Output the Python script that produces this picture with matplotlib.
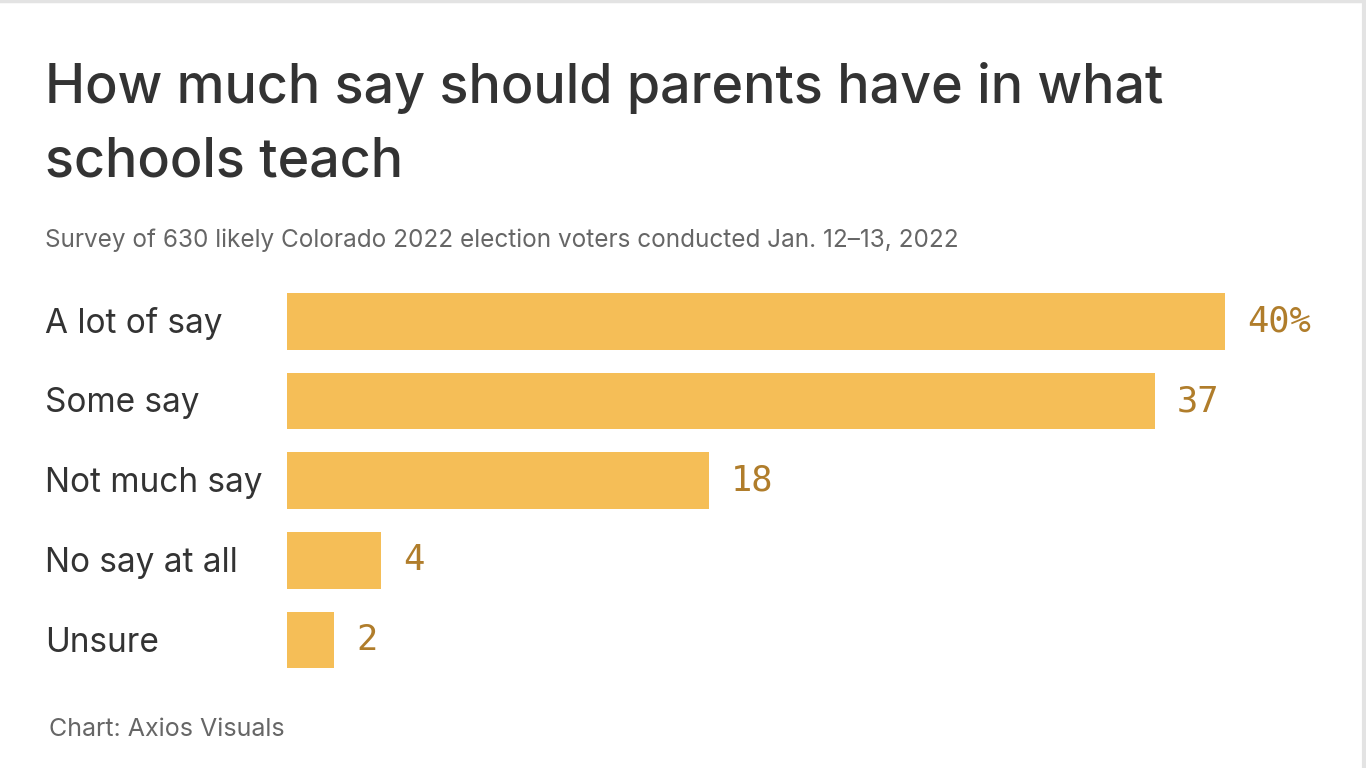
import matplotlib.pyplot as plt
from matplotlib.transforms import blended_transform_factory
from matplotlib.lines import Line2D

categories = ["A lot of say", "Some say", "Not much say", "No say at all", "Unsure"]
values = [40, 37, 18, 4, 2]
value_labels = ["40%", "37", "18", "4", "2"]

title = "How much say should parents have in what\nschools teach"
subtitle = "Survey of 630 likely Colorado 2022 election voters conducted Jan. 12\u201313, 2022"
footer = "Chart: Axios Visuals"

bar_color = "#F5BE57"
label_color = "#B07D2B"
text_dark = "#333333"
text_gray = "#666666"

W, H = 1366, 768
fig = plt.figure(figsize=(W / 100, H / 100), dpi=100)
fig.patch.set_facecolor("white")

# axes placed in pixel units: bars start at x=287, 40% ends at x=1225
left, right = 287, 1225
top, bottom = 281.5, 680
ax = fig.add_axes([left / W, 1 - bottom / H, (right - left) / W, (bottom - top) / H])
ax.set_xlim(0, 40)
ax.set_ylim(len(categories) - 0.5, -0.5)
ax.axis("off")

ypos = list(range(len(categories)))
ax.barh(ypos, values, height=0.71, color=bar_color)

px = 40 / (right - left)  # data units per pixel
for y, v, lab in zip(ypos, values, value_labels):
    ax.text(v + 22 * px, y, lab, va="center", ha="left", fontsize=25.5,
            family="DejaVu Sans Mono", color=label_color, clip_on=False)

trans = blended_transform_factory(fig.transFigure, ax.transData)
for y, cat in zip(ypos, categories):
    ax.text(45 / W, y + 0.03, cat, transform=trans, va="center", ha="left",
            fontsize=24, family="Inter", color=text_dark)

fig.text(45 / W, 1 - 125 / H, title, fontsize=38.8, family="Inter", fontweight="medium",
         color=text_dark, va="center", ha="left", linespacing=1.55)
fig.text(45 / W, 1 - 240 / H, subtitle, fontsize=17.5, family="Inter", color=text_gray,
         va="center", ha="left")
fig.text(49 / W, 1 - 729 / H, footer, fontsize=18, family="Inter", color=text_gray,
         va="center", ha="left")

# light frame on top and right edge
fig.add_artist(Line2D([0, 1], [1 - 1 / H, 1 - 1 / H], transform=fig.transFigure,
                      color="#e3e3e3", lw=2.5))
fig.add_artist(Line2D([1 - 2 / W, 1 - 2 / W], [0, 1], transform=fig.transFigure,
                      color="#e3e3e3", lw=3))

fig.savefig("out.png", dpi=100)
